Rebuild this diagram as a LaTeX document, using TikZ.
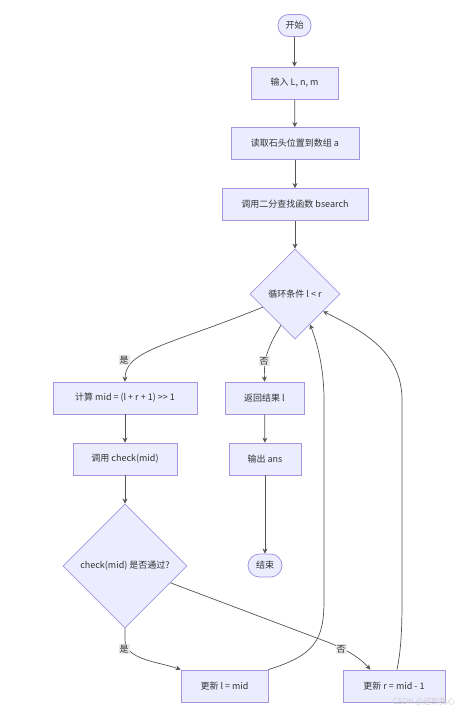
\documentclass[tikz,border=0pt]{standalone}
\usepackage{fontspec}
\setmainfont{Noto Sans CJK SC}
\usetikzlibrary{shapes.geometric,arrows.meta,calc}
\definecolor{nodefill}{HTML}{ECECFF}
\definecolor{nodeline}{HTML}{A595E0}
\definecolor{edgeline}{HTML}{555555}
\definecolor{lblbg}{HTML}{E8E8E8}
\definecolor{txt}{HTML}{333333}
\tikzset{
  base/.style={draw=nodeline, fill=nodefill, line width=0.8pt, text=txt, font=\fontsize{9}{11}\selectfont, inner sep=0pt},
  boxnode/.style={base, rectangle, minimum height=32pt},
  termnode/.style={base, rectangle, rounded corners=10.5pt, minimum height=22pt},
  decnode/.style={base, diamond, aspect=1},
  flow/.style={draw=edgeline, line width=0.7pt, -{Stealth[length=5pt,width=5pt]}},
  lbl/.style={fill=lblbg, text=txt, font=\fontsize{9}{11}\selectfont, inner sep=1pt}
}
\begin{document}
\begin{tikzpicture}[x=1pt,y=-1pt]
\useasboundingbox (0,0) rectangle (474,711);
\fill[white] (0,0) rectangle (474,711);
% nodes
\node[termnode, minimum width=33pt] (start) at (294.5,25.5) {开始};
\node[boxnode, minimum width=87pt] (inp) at (294.5,83) {输入 L, n, m};
\node[boxnode, minimum width=128pt] (read) at (295,143.5) {读取石头位置到数组 a};
\node[boxnode, minimum width=146pt] (call) at (295,204.5) {调用二分查找函数 bsearch};
\node[decnode, minimum width=90pt, minimum height=90pt] (d1) at (295,294) {循环条件 l < r};
\node[boxnode, minimum width=144pt] (calc) at (125,398) {计算 mid = (l + r + 1) >{}> 1};
\node[boxnode, minimum width=104pt] (chk) at (125,459) {调用 check(mid)};
\node[decnode, minimum width=124pt, minimum height=124pt] (d2) at (125,566) {check(mid) 是否通过?};
\node[boxnode, minimum width=79pt] (ret) at (264.5,398) {返回结果 l};
\node[boxnode, minimum width=72pt] (outp) at (265,459) {输出 ans};
\node[termnode, minimum width=34pt, minimum height=23pt, rounded corners=11.5pt] (fin) at (265,565.5) {结束};
\node[boxnode, minimum width=87pt] (upl) at (224.5,686) {更新 l = mid};
\node[boxnode, minimum width=102pt] (upr) at (394,686) {更新 r = mid - 1};
% edges
\draw[flow] (start) -- (inp);
\draw[flow] (inp) -- (read);
\draw[flow] (read) -- (call);
\draw[flow] (call) -- (d1);
\draw[flow] ($(d1.west)!0.29!(d1.south)$) .. controls (170,345) and (125,350) .. (calc.north);
\draw[flow] ($(d1.west)!0.69!(d1.south)$) .. controls (266,350) and (264,360) .. (ret.north);
\draw[flow] (ret) -- (outp);
\draw[flow] (outp) -- (fin);
\draw[flow] (calc) -- (chk);
\draw[flow] (chk) -- (d2);
\draw[flow] (d2.south) -- (125,640) .. controls (125,660) and (160,662) .. (upl.north west);
\draw[flow] ($(d2.east)!0.27!(d2.south)$) -- (330,643) .. controls (350,651) and (362,660) .. ($(upr.north west)!0.27!(upr.north east)$);
\draw[flow] (upl.north east) .. controls (315,655) and (324,640) .. (324,600) -- (324,400) .. controls (324,370) and (318,345) .. ($(d1.south)!0.33!(d1.east)$);
\draw[flow] ($(upr.north)+(3,0)$) .. controls (401,650) and (402,630) .. (402,600) -- (402,400) .. controls (402,350) and (360,330) .. ($(d1.south)!0.62!(d1.east)$);
% labels
\node[lbl] (l1) at (124,360) {是};
\node[lbl] (l2) at (264,361) {否};
\node[lbl] (l3) at (124,649) {是};
\node[lbl] (l4) at (341,649) {否};
\node[text=black!20, font=\fontsize{8}{9}\selectfont] (wm) at (424,702) {CSDN @迎到我心};
\end{tikzpicture}
\end{document}
